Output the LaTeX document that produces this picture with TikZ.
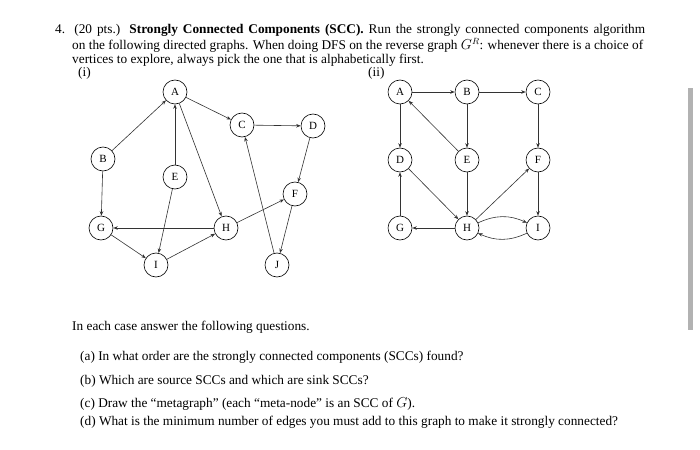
\documentclass[tikz,border=0pt]{standalone}
\usepackage{fontspec}
\setmainfont{Liberation Serif}
\usetikzlibrary{arrows.meta}
\begin{document}
\begin{tikzpicture}[x=1pt,y=-1pt,
  vtx/.style={circle,draw,line width=0.6pt,minimum size=24pt,inner sep=0pt,font=\fontsize{11}{11}\selectfont},
  edge/.style={-{Stealth[length=4.5pt,width=3.5pt]},line width=0.6pt,gray!40!black},
  txt/.style={anchor=west,inner sep=0pt,font=\fontsize{13.3}{15}\selectfont}]
\useasboundingbox (0,0) rectangle (700,449);
\fill[gray!60] (688,88) rectangle (693,330);
\node[txt] (l1) at (55,30) {\makebox[590pt][s]{4. (20 pts.) \textbf{Strongly Connected Components (SCC).} Run the strongly connected components algorithm}};
\node[txt] (l2) at (72,45) {\makebox[571pt][s]{on the following directed graphs. When doing DFS on the reverse graph $G^R$: whenever there is a choice of}};
\node[txt] (l3) at (72,60) {vertices to explore, always pick the one that is alphabetically first.};
\node[txt] (i1) at (78,73) {(i)};
\node[txt] (i2) at (368,73) {(ii)};
% graph (i)
\node[vtx] (A) at (175,92) {A};
\node[vtx] (B) at (103,159) {B};
\node[vtx] (C) at (242,125) {C};
\node[vtx] (D) at (313,126) {D};
\node[vtx] (E) at (175,177) {E};
\node[vtx] (F) at (295,194) {F};
\node[vtx] (G) at (101,228) {G};
\node[vtx] (H) at (226,228) {H};
\node[vtx] (I) at (156,265) {I};
\node[vtx] (J) at (277,265) {J};
\foreach \a/\b in {B/A,E/A,A/C,A/H,C/D,D/F,J/C,F/J,B/G,H/G,G/I,E/I,I/H,H/F}
  \draw[edge] (\a) -- (\b);
% graph (ii)
\node[vtx] (a) at (400,92) {A};
\node[vtx] (b) at (467,92) {B};
\node[vtx] (c) at (538,92) {C};
\node[vtx] (d) at (400,160) {D};
\node[vtx] (e) at (467,160) {E};
\node[vtx] (f) at (538,160) {F};
\node[vtx] (g) at (400,228) {G};
\node[vtx] (h) at (467,228) {H};
\node[vtx] (i) at (538,228) {I};
\foreach \a/\b in {a/b,b/c,a/d,b/e,e/a,c/f,d/h,e/h,h/f,f/i,g/d,h/g}
  \draw[edge] (\a) -- (\b);
\draw[edge] (h) to[bend left=25] (i);
\draw[edge] (i) to[bend left=25] (h);
% questions
\node[txt] (q0) at (72,327) {In each case answer the following questions.};
\node[txt] (qa) at (80,357) {(a) In what order are the strongly connected components (SCCs) found?};
\node[txt] (qb) at (80,381) {(b) Which are source SCCs and which are sink SCCs?};
\node[txt] (qc) at (80,404) {(c) Draw the ``metagraph'' (each ``meta-node'' is an SCC of $G$).};
\node[txt] (qd) at (80,422) {(d) What is the minimum number of edges you must add to this graph to make it strongly connected?};
\end{tikzpicture}
\end{document}
